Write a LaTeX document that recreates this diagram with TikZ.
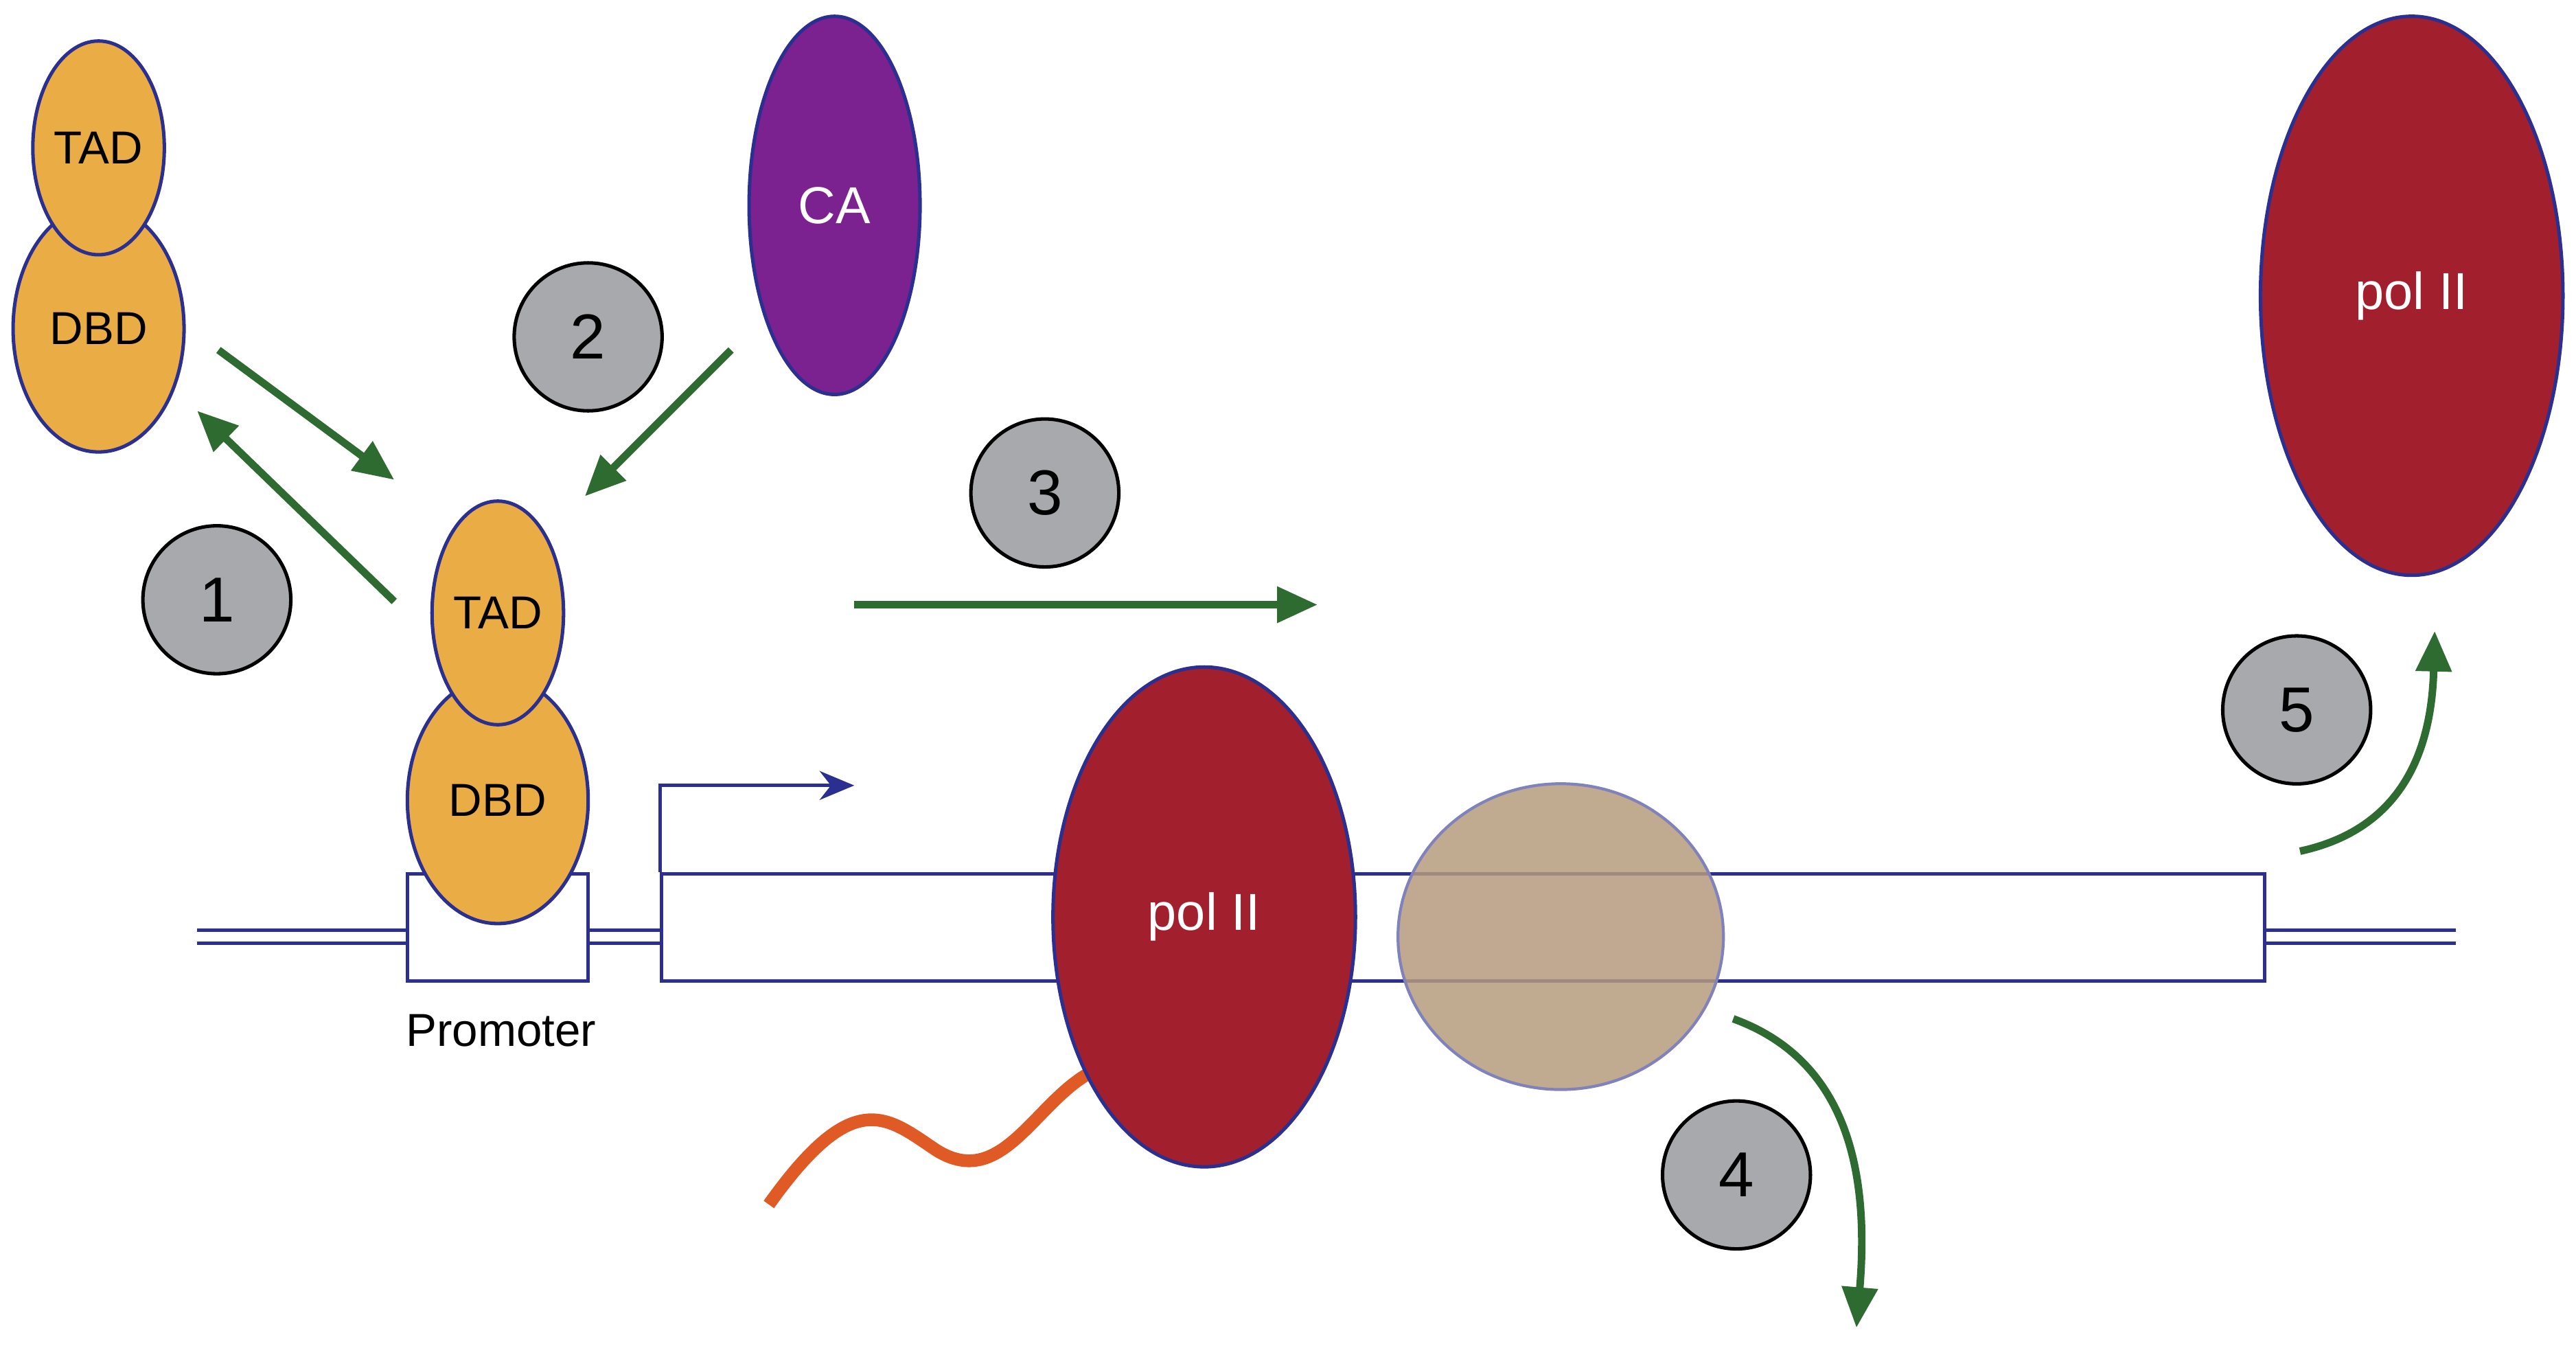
\documentclass[tikz,border=0pt]{standalone}
\usepackage{fontspec}
\setmainfont{Liberation Sans}
\usetikzlibrary{arrows.meta,shapes.geometric}
\definecolor{bl}{HTML}{2B2F8F}
\definecolor{org}{HTML}{EAAD45}
\definecolor{grn}{HTML}{2E6B30}
\definecolor{gry}{HTML}{A7A9AC}
\definecolor{red}{HTML}{A21F2E}
\definecolor{pur}{HTML}{7B2190}
\definecolor{tan}{HTML}{B59B7D}
\definecolor{rna}{HTML}{E05A25}
\begin{document}
\begin{tikzpicture}[x=0.01cm,y=-0.01cm,
 ell/.style={ellipse,draw=bl,line width=0.6pt,inner sep=0pt},
 dom/.style={ell,fill=org,font=\fontsize{8}{9}\selectfont},
 num/.style={circle,draw=black,line width=0.6pt,fill=gry,minimum size=0.9cm,inner sep=0pt,font=\fontsize{11}{12}\selectfont},
 ga/.style={draw=grn,line width=1.3pt,-{Triangle[length=7pt,width=6pt]}},
 pol/.style={ell,fill=red,text=white,font=\fontsize{9}{10}\selectfont}]
\useasboundingbox (0,0) rectangle (1568,819);
% DNA
\draw[bl,line width=0.6pt] (120,566) -- (1495,566) (120,574) -- (1495,574);
\node[draw=bl,fill=white,line width=0.6pt,minimum width=1.1cm,minimum height=0.65cm,inner sep=0pt] (prom) at (303,564.5) {};
\node[draw=bl,fill=white,line width=0.6pt,minimum width=9.75cm,minimum height=0.65cm,inner sep=0pt] (gene) at (890.5,564.5) {};
\node[font=\fontsize{8}{9}\selectfont] (plab) at (305,627) {Promoter};
\coordinate (tss) at (520,478);
\draw[bl,line width=0.6pt,-{Stealth[length=6pt,width=5pt]}] (gene.north west) |- (tss);
% free TF
\node[dom,minimum width=1.04cm,minimum height=1.5cm] (dbd1) at (60,200) {DBD};
\node[dom,minimum width=0.8cm,minimum height=1.3cm] (tad1) at (60,90) {TAD};
% bound TF
\node[dom,minimum width=1.1cm,minimum height=1.5cm] (dbd2) at (303,487) {DBD};
\node[dom,minimum width=0.8cm,minimum height=1.36cm] (tad2) at (303,373) {TAD};
% CA
\node[ell,fill=pur,text=white,minimum width=1.04cm,minimum height=2.3cm,font=\fontsize{9}{10}\selectfont] (ca) at (508,125) {CA};
% numbers
\node[num] (n1) at (132,365) {1};
\node[num] (n2) at (358,205) {2};
\node[num] (n3) at (636,300) {3};
\node[num] (n4) at (1057,715) {4};
\node[num] (n5) at (1398,432) {5};
% RNA
\coordinate (r0) at (468,733);
\coordinate (r1) at (665,652);
\draw[rna,line width=2.2pt] (r0) .. controls (520,660) and (540,680) .. (570,700) .. controls (610,725) and (630,670) .. (r1);
% pol II on DNA
\node[pol,minimum width=1.84cm,minimum height=3.04cm] (pol1) at (733,558) {pol II};
\node[ellipse,draw=bl!60,fill=tan,fill opacity=0.85,line width=0.5pt,minimum width=1.98cm,minimum height=1.86cm] (nuc) at (950,570) {};
% top pol II
\node[pol,minimum width=1.84cm,minimum height=3.4cm] (pol2) at (1468,180) {pol II};
% arrows
\coordinate (a1s) at (133,213); \coordinate (a1e) at (240,292);
\coordinate (b1s) at (240,366); \coordinate (b1e) at (120,250);
\draw[ga] (a1s) -- (a1e);
\draw[ga] (b1s) -- (b1e);
\coordinate (c1) at (445,213); \coordinate (c2) at (356,302);
\draw[ga] (c1) -- (c2);
\coordinate (d1) at (520,368); \coordinate (d2) at (802,368);
\draw[ga] (d1) -- (d2);
\coordinate (e1) at (1055,620); \coordinate (e2) at (1130,808);
\draw[ga] (e1) .. controls (1110,640) and (1140,690) .. (e2);
\coordinate (f1) at (1400,518); \coordinate (f2) at (1482,384);
\draw[ga] (f1) .. controls (1460,505) and (1480,460) .. (f2);
\end{tikzpicture}
\end{document}
